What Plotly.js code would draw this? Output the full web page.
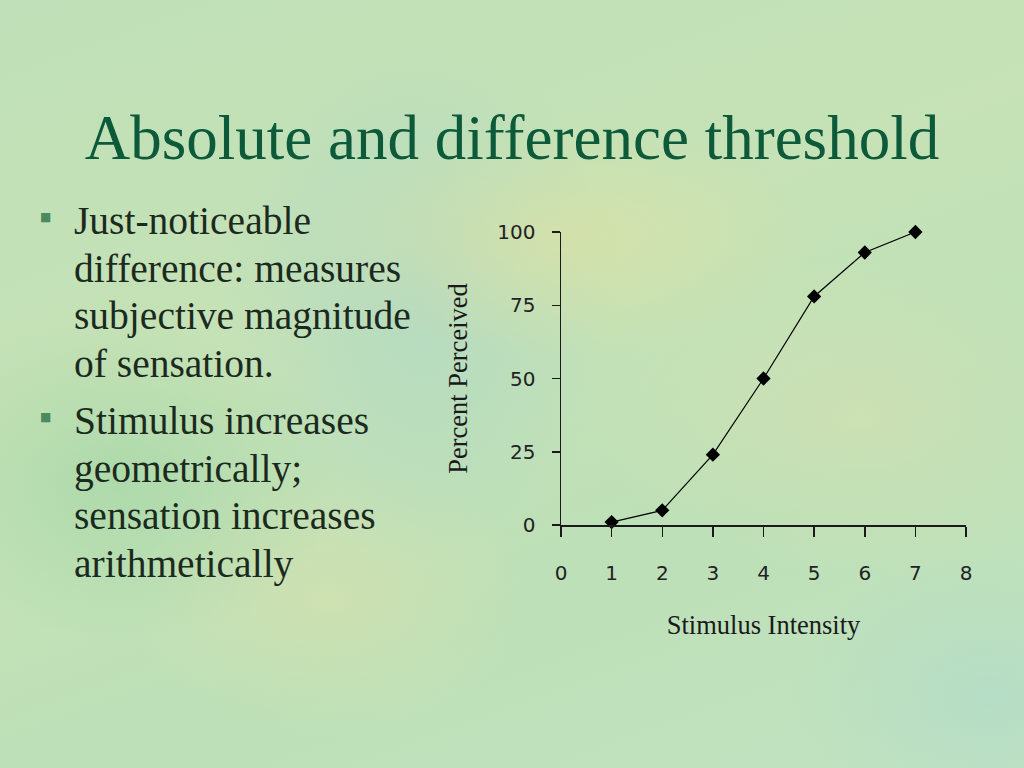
<!DOCTYPE html>
<html>
<head>
<meta charset="utf-8">
<script src="https://cdn.plot.ly/plotly-3.0.1.min.js"></script>
<style>
html,body{margin:0;padding:0;width:1024px;height:768px;overflow:hidden;}
body{
 background:
  radial-gradient(ellipse 260px 120px at 560px 240px, rgba(225,225,160,0.55), rgba(225,225,160,0) 100%),
  radial-gradient(ellipse 200px 260px at 420px 300px, rgba(160,210,205,0.45), rgba(160,210,205,0) 100%),
  radial-gradient(ellipse 220px 160px at 120px 480px, rgba(150,210,160,0.5), rgba(150,210,160,0) 100%),
  radial-gradient(ellipse 200px 140px at 330px 600px, rgba(220,225,170,0.5), rgba(220,225,170,0) 100%),
  radial-gradient(ellipse 200px 150px at 990px 700px, rgba(170,215,205,0.5), rgba(170,215,205,0) 100%),
  radial-gradient(ellipse 260px 160px at 860px 420px, rgba(220,225,175,0.45), rgba(220,225,175,0) 100%),
  linear-gradient(160deg, #bfe0b8 0%, #c6e2b6 40%, #bde0b8 70%, #c2e3c0 100%);
}
#chart{width:1024px;height:768px;}
</style>
</head>
<body>
<div id="chart"></div>
<script>
// ---- data ----
var stimulusIntensity = [1, 2, 3, 4, 5, 6, 7];
var percentPerceived = [1, 5, 24, 50, 78, 93, 100];
var xTicks = [0, 1, 2, 3, 4, 5, 6, 7, 8];
var yTicks = [0, 25, 50, 75, 100];
var titleText = "Absolute and difference threshold";
var bullet1Lines = ["Just-noticeable", "difference: measures", "subjective magnitude", "of sensation."];
var bullet2Lines = ["Stimulus increases", "geometrically;", "sensation increases", "arithmetically"];

// ---- layout helpers (pixel -> paper) ----
var W = 1024, H = 768;
var M = {l: 561, r: 58, t: 232, b: 243};
var PW = W - M.l - M.r, PH = H - M.t - M.b;
function px(x){ return (x - M.l) / PW; }
function py(y){ return (H - M.b - y) / PH; }

var annotations = [];
var textFont = {family: "Liberation Serif, Times New Roman, serif", size: 39.5, color: "#1c2a1e"};
function addBullet(lines, y0){
  annotations.push({xref: "paper", yref: "paper", x: px(45), y: py(y0 - 4), text: "■",
    showarrow: false, xanchor: "center", yanchor: "middle",
    font: {family: "DejaVu Sans", size: 12, color: "#4a8a60"}});
  lines.forEach(function(t, i){
    annotations.push({xref: "paper", yref: "paper", x: px(72), y: py(y0 + i * 47.7),
      text: t, showarrow: false, xanchor: "left", yanchor: "middle", font: textFont});
  });
}
addBullet(bullet1Lines, 221);
addBullet(bullet2Lines, 421);

var trace = {
  x: stimulusIntensity, y: percentPerceived, type: "scatter", mode: "lines+markers",
  line: {color: "#000000", width: 1.2},
  marker: {symbol: "diamond", size: 11, color: "#000000"},
  cliponaxis: false, hoverinfo: "x+y"
};

var tickFont = {family: "DejaVu Sans, sans-serif", size: 20, color: "#222222"};
var axisTitleFont = {family: "Liberation Serif, Times New Roman, serif", size: 26.5, color: "#1a1a1a"};

var layout = {
  width: W, height: H,
  margin: M,
  paper_bgcolor: "rgba(0,0,0,0)",
  plot_bgcolor: "rgba(0,0,0,0)",
  showlegend: false,
  title: {text: titleText, x: 0.5, xanchor: "center", y: 1 - 137 / H, yanchor: "middle",
    font: {family: "Liberation Serif, Times New Roman, serif", size: 63, color: "#0c5a3a"}},
  xaxis: {
    range: [0, 8], tickvals: xTicks, ticktext: xTicks.map(String),
    showgrid: false, zeroline: false, showline: true, linecolor: "#1a1a1a", linewidth: 1.5,
    ticks: "outside", ticklen: 10, tickwidth: 1.5, tickcolor: "#1a1a1a",
    tickfont: tickFont, ticklabelstandoff: 19,
    title: {text: "Stimulus Intensity", font: axisTitleFont, standoff: 32},
    automargin: false, fixedrange: true
  },
  yaxis: {
    range: [0, 100], tickvals: yTicks, ticktext: yTicks.map(String),
    showgrid: false, zeroline: false, showline: true, linecolor: "#1a1a1a", linewidth: 1.5,
    ticks: "outside", ticklen: 8, tickwidth: 1.5, tickcolor: "#1a1a1a",
    tickfont: tickFont, ticklabelstandoff: 12,
    title: {text: "Percent Perceived", font: axisTitleFont, standoff: 22},
    automargin: false, fixedrange: true
  },
  annotations: annotations
};

Plotly.newPlot("chart", [trace], layout, {displayModeBar: false, staticPlot: true});
</script>
</body>
</html>
